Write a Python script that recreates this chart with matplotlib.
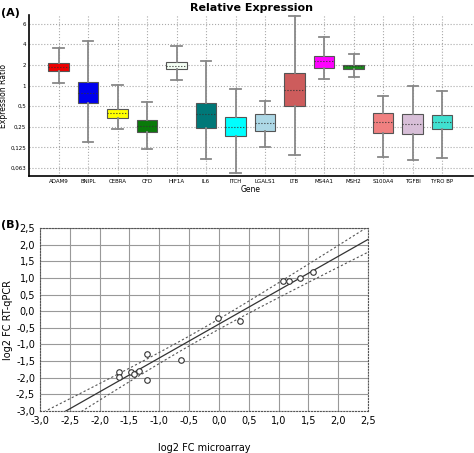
import numpy as np
import matplotlib.pyplot as plt

# Panel A: box stats in log2 units
genes = ['ADAM9', 'BNIPL', 'CEBRA', 'CFD', 'HIF1A', 'IL6', 'ITCH', 'LGALS1',
         'LTB', 'MS4A1', 'MSH2', 'S100A4', 'TGFBI', 'TYRO BP']
whisk_hi = [1.85, 2.16, 0.05, -0.81, 1.94, 1.18, -0.15, -0.76, 3.40, 2.37, 1.52, -0.48, 0.00, -0.24]
box_hi = [1.10, 0.19, -1.13, -1.68, 1.13, -0.82, -1.53, -1.39, 0.60, 1.44, 1.02, -1.34, -1.39, -1.44]
median = [0.92, -0.37, -1.32, -1.95, 0.97, -1.40, -2.00, -1.82, -0.23, 1.19, 0.94, -1.76, -1.87, -1.76]
box_lo = [0.71, -0.85, -1.55, -2.23, 0.79, -2.08, -2.44, -2.19, -0.97, 0.87, 0.81, -2.31, -2.35, -2.10]
whisk_lo = [0.13, -2.74, -2.13, -3.08, 0.29, -3.58, -4.24, -2.97, -3.37, 0.31, 0.40, -3.48, -3.61, -3.50]
colors = ['#ee0000', '#0000ee', '#ffff00', '#0a7a0a', '#f4fff4', '#007878', '#00ffff',
          '#add8e6', '#cd5c5c', '#ff00ff', '#1a8a1a', '#f08080', '#d8bfd8', '#40e0d0']
ytick_pos = [3, 2, 1, 0, -1, -2, -3, -4]
ytick_lab = ['6', '4', '2', '1', '0,5', '0,25', '0,125', '0,063']

# Panel B: scatter
x_micro = [-1.68, -1.68, -1.48, -1.43, -1.34, -1.21, -1.20, -0.64, -0.02, 0.36, 1.08, 1.18, 1.36, 1.57]
y_pcr = [-1.83, -1.98, -1.82, -1.90, -1.80, -1.30, -2.07, -1.46, -0.19, -0.31, 0.92, 0.90, 0.99, 1.19]
b_ticks = [-3.0, -2.5, -2.0, -1.5, -1.0, -0.5, 0.0, 0.5, 1.0, 1.5, 2.0, 2.5]

fig = plt.figure(figsize=(4.74, 4.53), dpi=100)

ax1 = fig.add_axes([29 / 474, 1 - 176 / 453, 444 / 474, 161 / 453])
stats = []
for i, g in enumerate(genes):
    stats.append(dict(label=g, whishi=whisk_hi[i], q3=box_hi[i], med=median[i],
                      q1=box_lo[i], whislo=whisk_lo[i]))
bp = ax1.bxp(stats, widths=0.68, patch_artist=True, showfliers=False,
             boxprops=dict(edgecolor='#555555', linewidth=0.8),
             whiskerprops=dict(color='#888888', linewidth=1.3),
             capprops=dict(color='#888888', linewidth=1.3),
             medianprops=dict(color='#333333', linestyle=':', linewidth=0.8))
for patch, c in zip(bp['boxes'], colors):
    patch.set_facecolor(c)
ax1.set_ylim(-4.39, 3.43)
ax1.set_xlim(0.0, 15.05)
ax1.set_yticks(ytick_pos)
ax1.set_yticklabels(ytick_lab)
ax1.tick_params(labelsize=4, length=0, pad=2)
ax1.grid(True, linestyle=':', color='#aaaaaa', linewidth=0.8)
ax1.set_axisbelow(True)
for s in ['top', 'right']:
    ax1.spines[s].set_visible(False)
ax1.spines['left'].set_linewidth(1.2)
ax1.spines['bottom'].set_linewidth(1.2)
ax1.set_ylabel('Expression Ratio', fontsize=5.5)
ax1.yaxis.set_label_coords(-21 / 444, 0.5)
ax1.set_xlabel('Gene', fontsize=5.5, labelpad=1)
ax1.set_title('Relative Expression', fontsize=8, fontweight='bold', pad=3)
fig.text(0.002, 0.965, '(A)', fontsize=8, fontweight='bold')

ax2 = fig.add_axes([40 / 474, 1 - 411 / 453, 328 / 474, 183 / 453])
xa = np.array(x_micro)
ya = np.array(y_pcr)
slope, icpt = np.polyfit(xa, ya, 1)
xs = np.linspace(-3, 2.5, 100)
n = len(xa)
resid = ya - (slope * xa + icpt)
se = np.sqrt(np.sum(resid ** 2) / (n - 2))
band = 2.18 * se * np.sqrt(1 / n + (xs - xa.mean()) ** 2 / np.sum((xa - xa.mean()) ** 2))
ax2.plot(xs, slope * xs + icpt, color='#333333', linewidth=0.9)
ax2.plot(xs, slope * xs + icpt + band, color='#555555', linewidth=0.8, linestyle=(0, (2, 2)))
ax2.plot(xs, slope * xs + icpt - band, color='#555555', linewidth=0.8, linestyle=(0, (2, 2)))
ax2.scatter(xa, ya, s=16, facecolors='white', edgecolors='#333333', linewidths=0.8, zorder=3)
ax2.set_xlim(-3, 2.5)
ax2.set_ylim(-3, 2.5)
ax2.set_xticks(b_ticks)
ax2.set_yticks(b_ticks)
lab = [f'{t:.1f}'.replace('.', ',') for t in b_ticks]
ax2.set_xticklabels(lab)
ax2.set_yticklabels(lab)
ax2.tick_params(labelsize=7, length=0)
ax2.grid(True, color='#999999', linewidth=0.8)
ax2.set_axisbelow(True)
for s in ax2.spines.values():
    s.set_linestyle(':')
    s.set_color('#555555')
ax2.set_xlabel('log2 FC microarray', fontsize=7, labelpad=12)
ax2.set_ylabel('log2 FC RT-qPCR', fontsize=7, labelpad=2)
fig.text(0.002, 1 - 228 / 453, '(B)', fontsize=8, fontweight='bold')

fig.savefig('out.png', dpi=100)
